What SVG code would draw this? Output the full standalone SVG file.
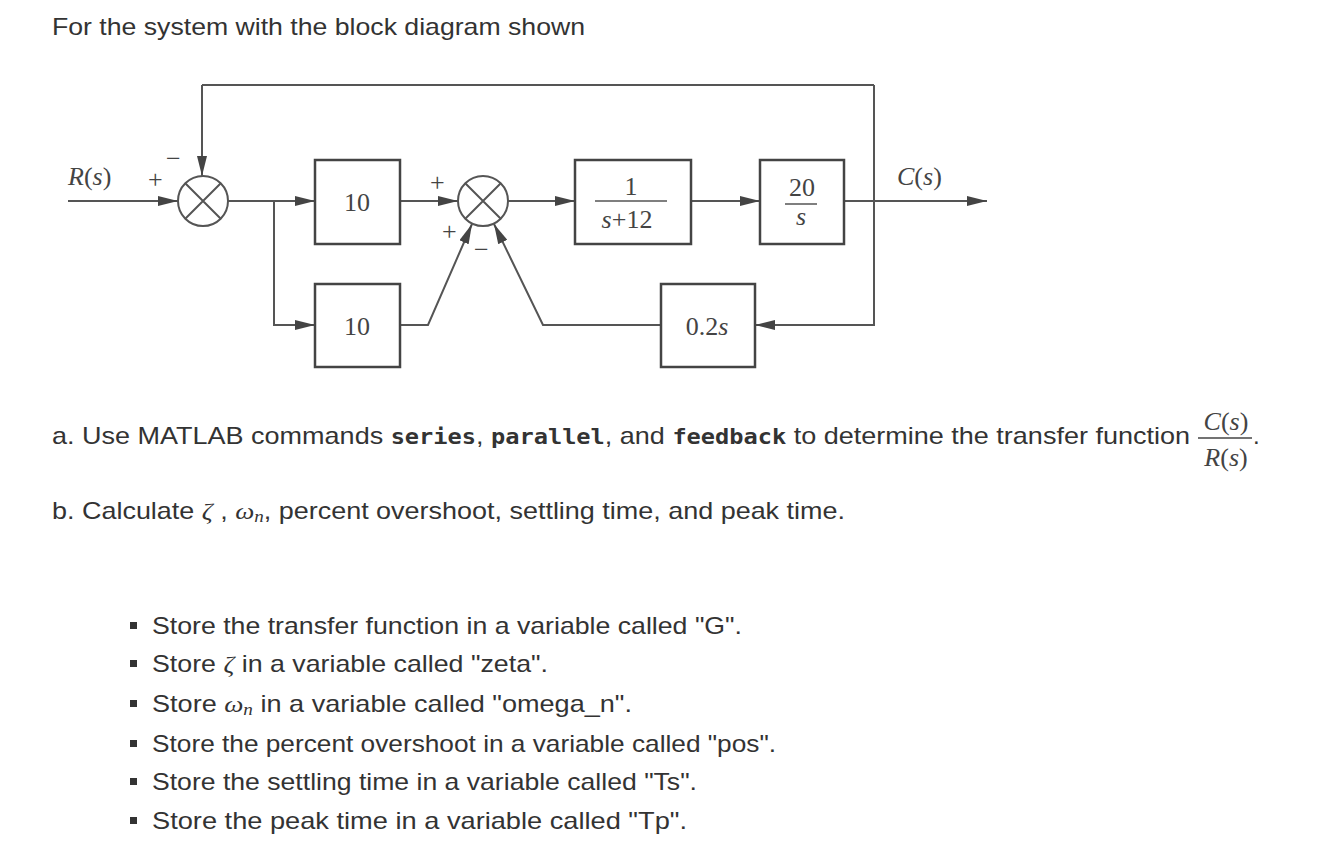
<svg xmlns="http://www.w3.org/2000/svg" width="1334" height="842" viewBox="0 0 1334 842">
<defs>
<marker id="ar" viewBox="0 0 20 10" refX="20" refY="5" markerWidth="20" markerHeight="10" markerUnits="userSpaceOnUse" orient="auto"><path d="M0,0 L20,5 L0,10 Z" fill="#444"/></marker>
</defs>
<style>
.t{font-family:"Liberation Sans",Arial,sans-serif;font-size:24px;fill:#333}
.m{font-family:"DejaVu Sans Mono","Liberation Mono",monospace;font-weight:bold;font-size:21px;fill:#333}
.d{font-family:"Liberation Serif","Times New Roman",serif;font-size:26px;fill:#444}
.i{font-style:italic}
.b{fill:#fff;stroke:#444;stroke-width:2.5}
.w{fill:none;stroke:#555;stroke-width:2}
</style>
<rect width="1334" height="842" fill="#fff"/>
<text class="t" x="52" y="35" textLength="533" lengthAdjust="spacingAndGlyphs">For the system with the block diagram shown</text>

<g id="connectors">
<path class="w" d="M68,201 H178" marker-end="url(#ar)"/>
<path class="w" d="M202,85 V176" marker-end="url(#ar)"/>
<path class="w" d="M874,85 H202"/>
<path class="w" d="M228,201 H315" marker-end="url(#ar)"/>
<path class="w" d="M274,201 V325 H315" marker-end="url(#ar)"/>
<path class="w" d="M400,201 H458" marker-end="url(#ar)"/>
<path class="w" d="M400,325 H428 L472,224" marker-end="url(#ar)"/>
<path class="w" d="M661,325 H543 L494,224" marker-end="url(#ar)"/>
<path class="w" d="M508,201 H575" marker-end="url(#ar)"/>
<path class="w" d="M691,201 H760" marker-end="url(#ar)"/>
<path class="w" d="M844,201 H987" marker-end="url(#ar)"/>
<path class="w" d="M874,85 V325 H755" marker-end="url(#ar)"/>
</g>

<g id="sum1">
<circle class="w" cx="203" cy="201" r="25"/>
<path class="w" d="M185,183 L221,219 M221,183 L185,219"/>
<text class="d" x="148" y="188" font-size="22">+</text>
<text class="d" x="166" y="167" font-size="22">−</text>
</g>
<g id="sum2">
<circle class="w" cx="483" cy="201" r="25"/>
<path class="w" d="M465,183 L501,219 M501,183 L465,219"/>
<text class="d" x="430" y="191" font-size="22">+</text>
<text class="d" x="442" y="240" font-size="22">+</text>
<text class="d" x="474" y="258" font-size="22">−</text>
</g>
<g id="label-R"><text class="d" x="68" y="185"><tspan class="i">R</tspan>(<tspan class="i">s</tspan>)</text></g>
<g id="label-C"><text class="d" x="897" y="185"><tspan class="i">C</tspan>(<tspan class="i">s</tspan>)</text></g>

<g id="k1"><rect class="b" x="315" y="160" width="85" height="84"/><text class="d" x="357" y="211" text-anchor="middle">10</text></g>
<g id="k2"><rect class="b" x="315" y="284" width="85" height="83"/><text class="d" x="357" y="335" text-anchor="middle">10</text></g>
<g id="g1"><rect class="b" x="575" y="160" width="116" height="84"/>
<text class="d" x="631" y="195" text-anchor="middle">1</text>
<line x1="595" y1="201" x2="667" y2="201" stroke="#555" stroke-width="1.5"/>
<text class="d" x="627" y="228" text-anchor="middle"><tspan class="i">s</tspan>+12</text></g>
<g id="g2"><rect class="b" x="760" y="160" width="84" height="84"/>
<text class="d" x="802" y="196" text-anchor="middle" font-size="24">20</text>
<line x1="785" y1="204" x2="817" y2="204" stroke="#555" stroke-width="1.5"/>
<text class="d i" x="801" y="225" text-anchor="middle" font-size="24">s</text></g>
<g id="h"><rect class="b" x="661" y="284" width="94" height="83"/><text class="d" x="707" y="335" text-anchor="middle">0.2<tspan class="i">s</tspan></text></g>

<text class="t" x="52" y="444" textLength="1138" lengthAdjust="spacingAndGlyphs">a. Use MATLAB commands <tspan class="m">series</tspan>, <tspan class="m">parallel</tspan>, and <tspan class="m">feedback</tspan> to determine the transfer function</text>
<text class="d" x="1226" y="430" text-anchor="middle" font-size="23"><tspan class="i">C</tspan>(<tspan class="i">s</tspan>)</text>
<line x1="1198" y1="438" x2="1252" y2="438" stroke="#444" stroke-width="1.5"/>
<text class="d" x="1226" y="466" text-anchor="middle" font-size="23"><tspan class="i">R</tspan>(<tspan class="i">s</tspan>)</text>
<text class="t" x="1253" y="444">.</text>

<text class="t" x="52" y="519" textLength="793" lengthAdjust="spacingAndGlyphs">b. Calculate <tspan font-family="Liberation Serif,serif" font-style="italic">ζ</tspan> , <tspan font-family="Liberation Serif,serif" font-style="italic">ω<tspan font-size="17" dy="3">n</tspan></tspan><tspan dy="-3">, percent overshoot, settling time, and peak time.</tspan></text>

<g fill="#333">
<rect x="130" y="622" width="7" height="7"/>
<rect x="130" y="660" width="7" height="7"/>
<rect x="130" y="700" width="7" height="7"/>
<rect x="130" y="740" width="7" height="7"/>
<rect x="130" y="778" width="7" height="7"/>
<rect x="130" y="817" width="7" height="7"/>
</g>
<text class="t" x="152" y="634" textLength="590" lengthAdjust="spacingAndGlyphs">Store the transfer function in a variable called "G".</text>
<text class="t" x="152" y="672" textLength="396" lengthAdjust="spacingAndGlyphs">Store <tspan font-family="Liberation Serif,serif" font-style="italic">ζ</tspan>  in a variable called "zeta".</text>
<text class="t" x="152" y="712" textLength="480" lengthAdjust="spacingAndGlyphs">Store <tspan font-family="Liberation Serif,serif" font-style="italic">ω<tspan font-size="17" dy="3">n</tspan></tspan><tspan dy="-3"> in a variable called "omega_n".</tspan></text>
<text class="t" x="152" y="752" textLength="624" lengthAdjust="spacingAndGlyphs">Store the percent overshoot in a variable called "pos".</text>
<text class="t" x="152" y="790" textLength="545" lengthAdjust="spacingAndGlyphs">Store the settling time in a variable called "Ts".</text>
<text class="t" x="152" y="829" textLength="535" lengthAdjust="spacingAndGlyphs">Store the peak time in a variable called "Tp".</text>
</svg>
